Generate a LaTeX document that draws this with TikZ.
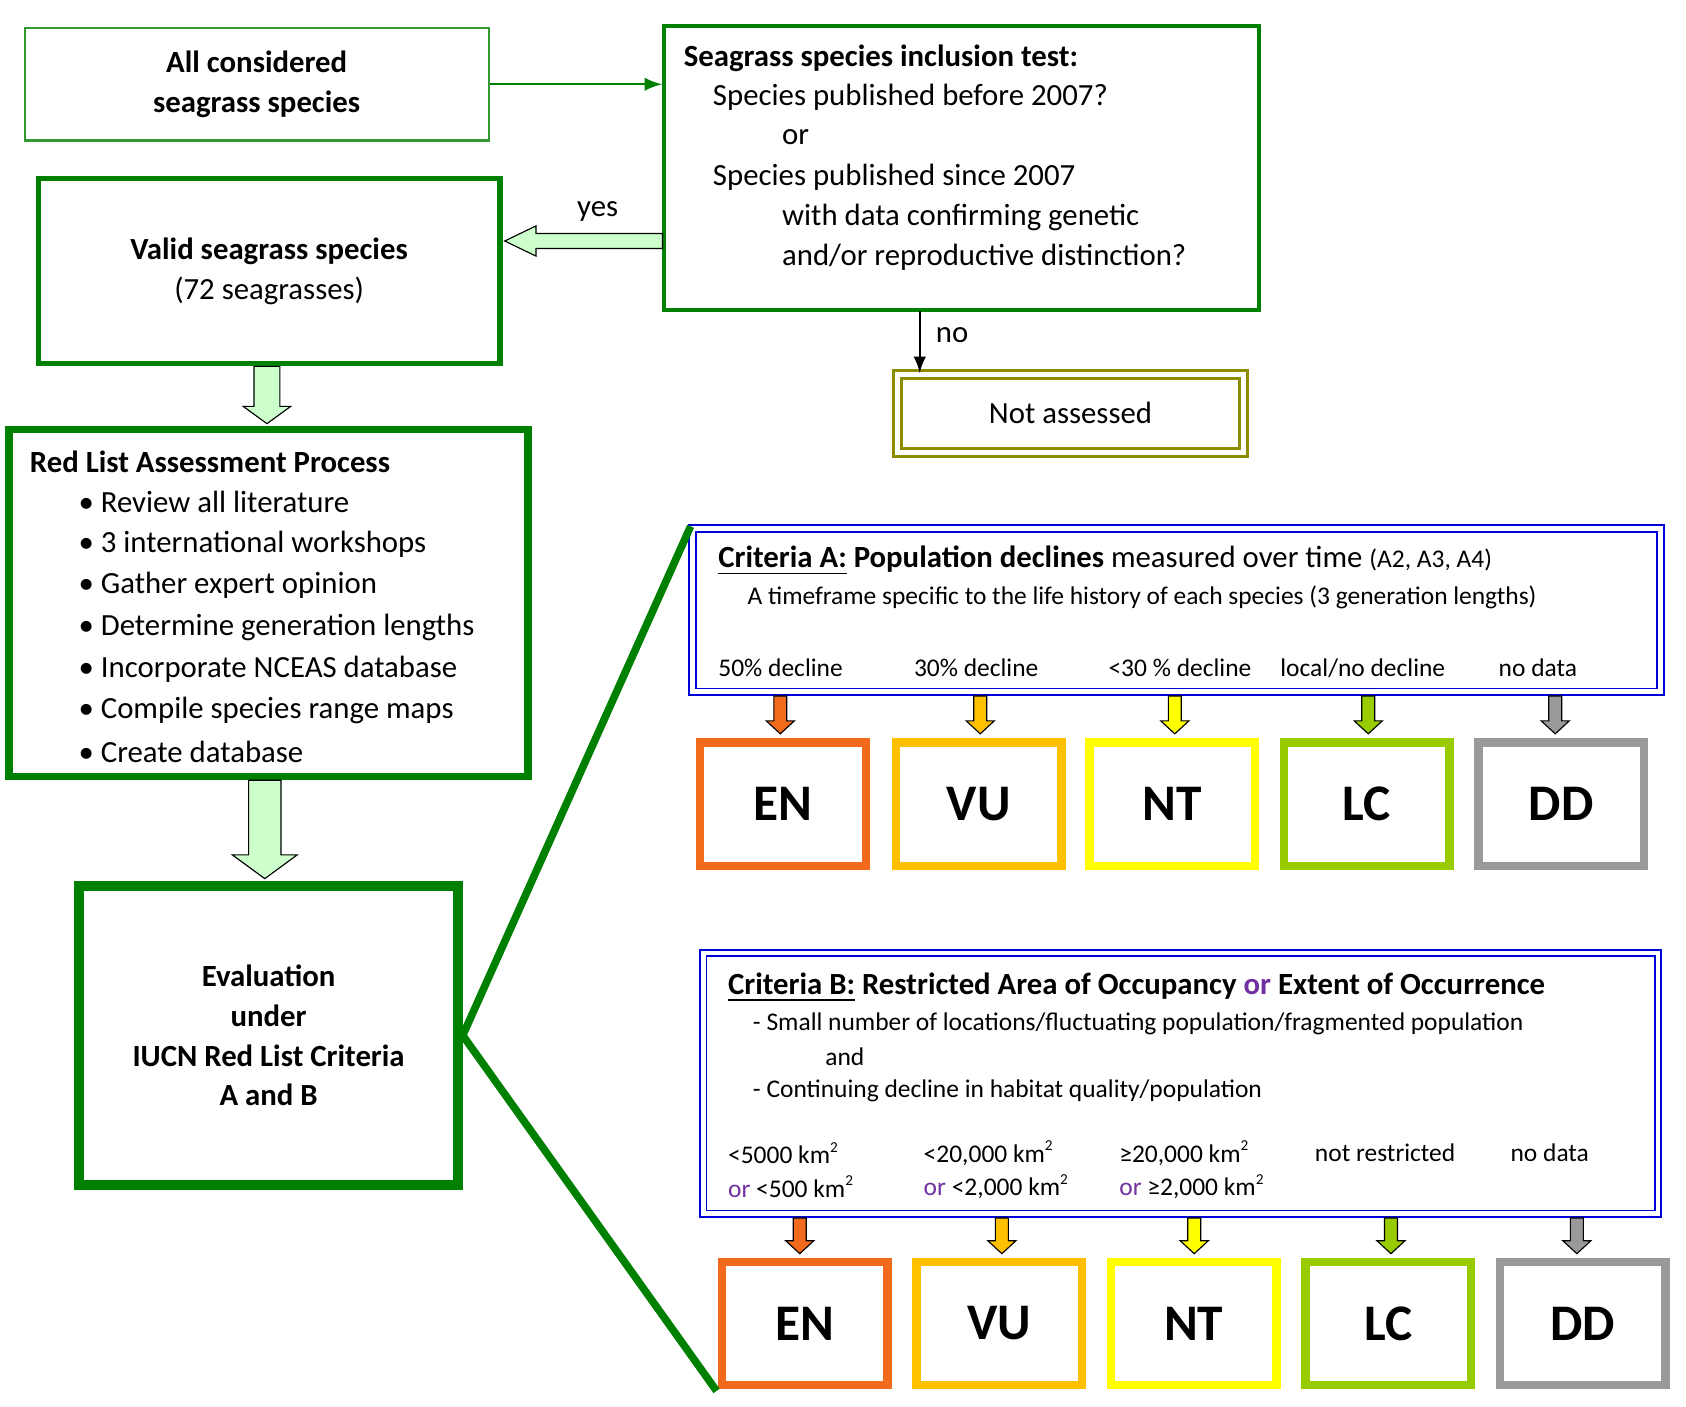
\documentclass[tikz,border=0pt]{standalone}
\usepackage{fontspec}
\setmainfont{Carlito}
\definecolor{dkgreen}{HTML}{008000}
\definecolor{ltgreen}{HTML}{CCFFCC}
\definecolor{cEN}{HTML}{F26B1D}
\definecolor{cVU}{HTML}{FFC000}
\definecolor{cNT}{HTML}{FFFF00}
\definecolor{cLC}{HTML}{99CC00}
\definecolor{cDD}{HTML}{999999}
\definecolor{cOR}{HTML}{7030A0}
\definecolor{olivec}{HTML}{8C8C00}
\newcommand\fbody{\fontsize{8.1}{9.5}\selectfont}
\newcommand\fsmall{\fontsize{6.7}{8}\selectfont}
\newcommand\fbig{\fontsize{13.5}{15}\selectfont\bfseries}
\newcommand\sqkm{km\textsuperscript{\fontsize{4}{4}\selectfont 2}}
% block arrow pointing down: x, ytop, ybottom, half shaft, half head, head length, colour
\newcommand\blkdown[7]{\draw[black,fill=#7,line width=0.3pt] (#1-#4,#2) -- (#1+#4,#2) -- (#1+#4,#3-#6) -- (#1+#5,#3-#6) -- (#1,#3) -- (#1-#5,#3-#6) -- (#1-#4,#3-#6) -- cycle;}
\begin{document}
\begin{tikzpicture}[x=0.01cm,y=-0.01cm,
  txt/.style={anchor=west,inner sep=0pt,font=\fbody},
  dbl/.style={draw=#1,double=white,double distance=1.2pt,line width=0.5pt},
  cat/.style={line width=#1,minimum width=1.53cm,minimum height=1.14cm,inner sep=0pt,font=\fbig}]
\useasboundingbox (0,0) rectangle (1560,1301);
% top row
\node[draw=dkgreen!80,line width=0.6pt,minimum width=4.29cm,minimum height=1.04cm,align=center,font=\fbody\bfseries] (all) at (237.5,78) {All considered\\[1pt]seagrass species};
\node[draw=dkgreen,line width=1pt,minimum width=5.5cm,minimum height=2.62cm] (test) at (889.5,155.5) {};
\node[txt,font=\fbody\bfseries] at (632,54) {Seagrass species inclusion test:};
\node[txt] at (659,90) {Species published before 2007?};
\node[txt] at (723,127) {or};
\node[txt] at (659,164) {Species published since 2007};
\node[txt] at (723,201) {with data confirming genetic};
\node[txt] at (723,238) {and/or reproductive distinction?};
\draw[dkgreen,-latex,line width=0.6pt] (all.east) -- (test.west |- all.east);
\node[draw=dkgreen,line width=1.4pt,minimum width=4.27cm,minimum height=1.71cm,align=center,font=\fbody] (valid) at (249,251) {\textbf{Valid seagrass species}\\[1pt](72 seagrasses)};
% yes arrow
\draw[black,fill=ltgreen,line width=0.3pt] (613,216) -- (496,216) -- (496,209) -- (467,223) -- (496,237) -- (496,230) -- (613,230) -- cycle;
\node[font=\fbody] (yes) at (553,196) {yes};
% no
\coordinate (nofrom) at (851,288);
\node[dbl=olivec,line width=0.8pt,minimum width=3.2cm,minimum height=0.72cm,font=\fbody] (na) at (990.5,382.5) {Not assessed};
\draw[-latex,line width=0.5pt] (nofrom) -- (na.north west -| nofrom);
\node[font=\fbody] at (881,310) {no};
% red list
\node[draw=dkgreen,line width=2pt,minimum width=4.8cm,minimum height=3.21cm] (rl) at (248.5,558) {};
\node[txt,font=\fbody\bfseries] at (27,427) {Red List Assessment Process};
\foreach \t [count=\i] in {Review all literature,3 international workshops,Gather expert opinion,Determine generation lengths,Incorporate NCEAS database,Compile species range maps,Create database}
  \node[txt] at (72,426+38.6*\i) {\textbullet\ \t};
\blkdown{247}{339}{392}{12}{22}{16}{ltgreen}
\node[draw=dkgreen,line width=2.6pt,minimum width=3.5cm,minimum height=2.77cm,align=center,font=\fbody\bfseries] (ev) at (248.5,958) {Evaluation\\[1pt]under\\[1pt]IUCN Red List Criteria\\[1pt]A and B};
\blkdown{245}{722}{813}{15}{30}{22}{ltgreen}
% criteria A
\node[dbl=blue!85!black,minimum width=8.95cm,minimum height=1.51cm] (ca) at (1088.5,564.5) {};
\node[txt] at (664,519) {\textbf{\underline{Criteria A:} Population declines} measured over time {\fsmall (A2, A3, A4)}};
\node[txt,font=\fsmall] at (691,553) {A timeframe specific to the life history of each species (3 generation lengths)};
% criteria B
\node[dbl=blue!85!black,minimum width=8.83cm,minimum height=2.41cm] (cb) at (1092.5,1002.5) {};
\node[txt] at (673,914) {\textbf{\underline{Criteria B:} Restricted Area of Occupancy \textcolor{cOR}{or} Extent of Occurrence}};
\node[txt,font=\fsmall] at (696,947) {- Small number of locations/fluctuating population/fragmented population};
\node[txt,font=\fsmall] at (763,978) {and};
\node[txt,font=\fsmall] at (696,1009) {- Continuing decline in habitat quality/population};
% labels A
\foreach \x/\t in {664/{50\% decline},845/{30\% decline},1025/{<30 \% decline},1184/{local/no decline},1386/{no data}}
  \node[txt,font=\fsmall] at (\x,618) {\t};
% labels B
\foreach \x/\a/\b in {673/{<5000 \sqkm}/{<500 \sqkm},854/{<20,000 \sqkm}/{<2,000 \sqkm},1035/{≥20,000 \sqkm}/{≥2,000 \sqkm}}{
  \node[txt,font=\fsmall] at (\x,1067) {\a};
  \node[txt,font=\fsmall] at (\x,1098) {\textcolor{cOR}{or} \b};}
\node[txt,font=\fsmall] at (1216,1067) {not restricted};
\node[txt,font=\fsmall] at (1397,1067) {no data};
% category boxes
\foreach \n/\c/\x/\xb in {EN/cEN/724.5/744.5,VU/cVU/905.5/924.5,NT/cNT/1084.5/1104.5,LC/cLC/1264.5/1284.5,DD/cDD/1444.5/1464.5}{
  \node[draw=\c,cat=2.2pt] (a\n) at (\x,744) {\n};
  \node[draw=\c,cat=2.2pt] (b\n) at (\xb,1224.5) {\n};}
\foreach \x/\c in {722/cEN,907/cVU,1087/cNT,1266/cLC,1439/cDD}{\blkdown{\x}{644}{679}{6}{13}{12}{\c}}
\foreach \x/\c in {740/cEN,927/cVU,1105/cNT,1287/cLC,1459/cDD}{\blkdown{\x}{1127}{1160}{6}{13}{12}{\c}}
% fan lines
\draw[dkgreen,line width=2pt] (639,487) -- (ev.east) -- (663,1287);
\end{tikzpicture}
\end{document}
